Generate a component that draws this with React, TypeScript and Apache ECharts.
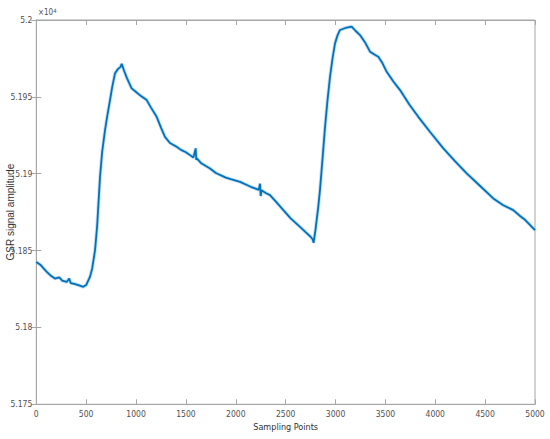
import React, { useEffect, useRef } from "react";
import * as echarts from "echarts";

// Sampling point indices and GSR amplitude (raw units, axis shown as ×10^4)
const sampleIdx = [
  0, 40, 100, 150, 187, 230, 260, 305, 330, 345, 380, 430, 471, 500, 538, 560, 589, 610,
  639, 660, 689, 710, 739, 760, 789, 820, 845, 856, 870, 880, 910, 956, 1000, 1050, 1107, 1150,
  1207, 1250, 1290, 1340, 1407, 1450, 1500, 1541, 1575, 1598, 1604, 1610, 1650, 1700, 1742,
  1800, 1900, 1950, 2043, 2100, 2150, 2230, 2243, 2250, 2258, 2300, 2343, 2400, 2477, 2550,
  2644, 2700, 2750, 2772, 2780, 2800, 2827, 2844, 2870, 2895, 2920, 2945, 2970, 2995, 3020,
  3045, 3100, 3162, 3200, 3245, 3300, 3346, 3390, 3429, 3470, 3513, 3580, 3647, 3740, 3830,
  3950, 4081, 4200, 4315, 4450, 4582, 4682, 4782, 4850, 4900, 5000,
];
const gsrValues = [
  51842.6, 51840.8, 51836.5, 51833.4, 51831.8, 51832.6, 51830.4, 51829.6, 51831.8, 51828.9,
  51828.4, 51827.3, 51826.4, 51827.6, 51832.9, 51838.2, 51850.3, 51866.0, 51898.0, 51914.0,
  51928.4, 51937.0, 51947.9, 51956.0, 51965.3, 51968.2, 51969.5, 51971.5, 51969.0, 51967.0,
  51962.0, 51955.5, 51953.2, 51950.5, 51947.9, 51943.0, 51937.0, 51930.0, 51924.0, 51920.0,
  51917.5, 51915.5, 51914.0, 51912.1, 51910.5, 51916.5, 51909.0, 51910.0, 51907.0, 51905.0,
  51903.4, 51900.5, 51897.5, 51896.5, 51894.7, 51893.0, 51891.5, 51889.5, 51893.5, 51885.5,
  51889.3, 51887.5, 51886.1, 51882.0, 51876.3, 51871.0, 51865.4, 51862.0, 51859.0, 51857.2,
  51855.0, 51864.0, 51878.5, 51889.3, 51910.0, 51930.5, 51948.0, 51963.1, 51975.0, 51984.8,
  51990.0, 51993.5, 51994.8, 51995.7, 51993.0, 51990.2, 51985.0, 51979.4, 51977.5, 51976.1,
  51972.0, 51966.3, 51960.0, 51954.4, 51945.0, 51937.0, 51927.0, 51916.5, 51908.0, 51900.2,
  51892.0, 51883.9, 51879.5, 51876.3, 51872.5, 51870.0, 51863.3,
];
const xTicks = [0, 5000, 500];
const yTicks = [51750, 52000, 50];

const FONT = "Liberation Sans, Arial, sans-serif";
const NARROW = "Liberation Sans Narrow, Arial Narrow, DejaVu Sans Condensed, Liberation Sans, sans-serif";

export default function App() {
  const ref = useRef<HTMLDivElement>(null);
  useEffect(() => {
    if (!ref.current) return;
    const chart = echarts.init(ref.current, null, { renderer: "svg" });
    const data = sampleIdx.map((x, i) => [x, gsrValues[i]]);
    const axisColor = "#a6a6a6";
    const labelColor = "#505050";
    const fmtY = (v: number) => String(parseFloat((v / 10000).toFixed(4)));
    const fmtX = (v: number) => String(v);
    chart.setOption({
      animation: false,
      backgroundColor: "#ffffff",
      grid: {
        left: 36.3,
        top: 20,
        right: 15,
        bottom: 34.7,
        show: true,
        borderColor: axisColor,
        borderWidth: 1,
        containLabel: false,
        outerBoundsMode: "none",
      },
      xAxis: [
        {
          type: "value",
          min: xTicks[0],
          max: xTicks[1],
          interval: xTicks[2],
          name: "Sampling Points",
          nameLocation: "middle",
          nameGap: 18,
          nameMoveOverlap: false,
          nameTextStyle: { fontFamily: NARROW, fontSize: 9, color: "#303030" },
          axisLine: { show: true, lineStyle: { color: axisColor } },
          axisTick: { show: true, inside: true, length: 5, lineStyle: { color: axisColor } },
          axisLabel: { fontFamily: NARROW, fontSize: 8.5, color: labelColor, margin: 5, formatter: fmtX },
          splitLine: { show: false },
        },
        {
          type: "value",
          position: "top",
          min: xTicks[0],
          max: xTicks[1],
          interval: xTicks[2],
          axisLine: { show: true, lineStyle: { color: axisColor } },
          axisTick: { show: true, inside: true, length: 5, lineStyle: { color: axisColor } },
          axisLabel: { show: false },
          splitLine: { show: false },
        },
      ],
      yAxis: [
        {
          type: "value",
          min: yTicks[0],
          max: yTicks[1],
          interval: yTicks[2],
          name: "GSR signal amplitude",
          nameLocation: "middle",
          nameGap: 20.5,
          nameMoveOverlap: false,
          nameTextStyle: { fontFamily: FONT, fontSize: 10, color: "#303030" },
          axisLine: { show: true, lineStyle: { color: axisColor } },
          axisTick: { show: true, inside: true, length: 5, lineStyle: { color: axisColor } },
          axisLabel: { fontFamily: NARROW, fontSize: 8.5, color: labelColor, margin: 4, formatter: fmtY },
          splitLine: { show: false },
        },
        {
          type: "value",
          position: "right",
          min: yTicks[0],
          max: yTicks[1],
          interval: yTicks[2],
          axisLine: { show: true, lineStyle: { color: axisColor } },
          axisTick: { show: true, inside: true, length: 5, lineStyle: { color: axisColor } },
          axisLabel: { show: false },
          splitLine: { show: false },
        },
      ],
      graphic: [
        {
          type: "text",
          left: 38,
          top: 7,
          style: {
            text: "{b|×10}{s|4}",
            rich: {
              b: { fontFamily: NARROW, fontSize: 8, fill: labelColor },
              s: { fontFamily: NARROW, fontSize: 6, fill: labelColor, verticalAlign: "top", padding: [0, 0, 5, 0] },
            },
          },
        },
      ],
      series: [
        {
          type: "line",
          data,
          showSymbol: false,
          symbol: "none",
          silent: true,
          lineStyle: { color: "#7fb6de", width: 3.6, opacity: 0.45 },
          itemStyle: { color: "#7fb6de" },
          z: 1,
        },
        {
          type: "line",
          data,
          showSymbol: false,
          symbol: "none",
          lineStyle: { color: "#0072BD", width: 1.8 },
          itemStyle: { color: "#0072BD" },
          z: 2,
        },
      ],
    });
    return () => chart.dispose();
  }, []);
  return (
    <div
      ref={ref}
      style={{ position: "fixed", left: 0, top: 0, width: 550, height: 439, background: "#fff" }}
    />
  );
}
